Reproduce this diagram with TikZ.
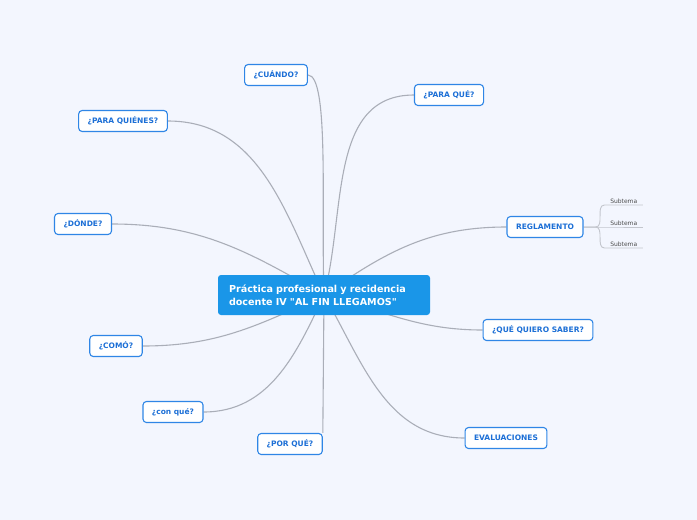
\documentclass[tikz,border=0pt]{standalone}
\usepackage{fontspec}
\setmainfont{DejaVu Sans}
\usetikzlibrary{positioning,backgrounds}
\definecolor{fondo}{HTML}{F3F6FE}
\definecolor{azul}{HTML}{1A96E8}
\definecolor{borde}{HTML}{2F86E6}
\definecolor{letra}{HTML}{1C6FD6}
\definecolor{rama}{HTML}{AAAEB8}
\tikzset{
  centro/.style={
    rounded corners=3pt,
    fill=azul, text=white,
    font=\bfseries\fontsize{9.6}{12.5}\selectfont,
    text width=190pt, align=left,
    inner xsep=11pt, minimum height=40pt
  },
  tema/.style={
    rounded corners=3.5pt,
    draw=borde, line width=1.1pt, fill=white, text=letra,
    font=\bfseries\fontsize{7.5}{9}\selectfont,
    inner xsep=9pt, minimum height=21pt
  },
  subtema/.style={
    text=black!70, font=\fontsize{6}{7}\selectfont,
    minimum width=38pt, inner sep=1.5pt
  },
  conexion/.style={draw=rama, line width=1.1pt},
  subconexion/.style={draw=rama!70, line width=0.9pt}
}

\begin{document}
\begin{tikzpicture}
  \useasboundingbox (0,0) rectangle (697pt,-520pt);
  \node[centro] (Centro) at (324pt,-295pt)
  {Práctica profesional y recidencia\\docente IV \textquotedbl AL FIN LLEGAMOS\textquotedbl};

  \node[tema, on grid, above left=220pt and 48pt of Centro] (Cuando) {¿CUÁNDO?};
  \node[tema, on grid, above right=200pt and 125pt of Centro] (ParaQue) {¿PARA QUÉ?};
  \node[tema, on grid, above left=174pt and 201pt of Centro] (ParaQuienes) {¿PARA QUIÉNES?};
  \node[tema, on grid, above left=71pt and 241pt of Centro] (Donde) {¿DÓNDE?};
  \node[tema, on grid, above right=68pt and 221pt of Centro] (Reglamento) {REGLAMENTO};
  \node[tema, on grid, below right=35pt and 214pt of Centro] (QueQuiero) {¿QUÉ QUIERO SABER?};
  \node[tema, on grid, below left=51pt and 208pt of Centro] (Como) {¿COMÓ?};
  \node[tema, on grid, below left=117pt and 151pt of Centro] (ConQue) {¿con qué?};
  \node[tema, on grid, below left=149pt and 34pt of Centro] (PorQue) {¿POR QUÉ?};
  \node[tema, on grid, below right=143pt and 182pt of Centro] (Evaluaciones) {EVALUACIONES};

  \node[subtema, above right=22pt and 21pt of Reglamento.east, anchor=south west] (SubA) {Subtema};
  \node[subtema, right=21pt of Reglamento.east, anchor=south west] (SubB) {Subtema};
  \node[subtema, below right=21pt and 21pt of Reglamento.east, anchor=south west] (SubC) {Subtema};

  \begin{scope}[on background layer]
    \fill[fondo] (0,0) rectangle (697pt,-520pt);
    \draw[conexion] (Centro.center) to[out=92,in=0,in looseness=0.25] (Cuando.east);
    \draw[conexion] (Centro.center) to[out=75,in=180] (ParaQue.west);
    \draw[conexion] (Centro.center) to[out=115,in=0] (ParaQuienes.east);
    \draw[conexion] (Centro.center) to[out=150,in=0] (Donde.east);
    \draw[conexion] (Centro.center) to[out=35,in=180] (Reglamento.west);
    \draw[conexion] (Centro.center) to[out=-15,in=180] (QueQuiero.west);
    \draw[conexion] (Centro.center) to[out=-155,in=0] (Como.east);
    \draw[conexion] (Centro.center) to[out=-115,in=0] (ConQue.east);
    \draw[conexion] (Centro.center) -- (PorQue.north east);
    \draw[conexion] (Centro.center) to[out=-60,in=180] (Evaluaciones.west);
    % subtemas de reglamento
    \draw[subconexion] (Reglamento.east) -- ++(12pt,0) to[out=0,in=180] (SubA.south west) -- (SubA.south east);
    \draw[subconexion] (Reglamento.east) -- (SubB.south west) -- (SubB.south east);
    \draw[subconexion] (Reglamento.east) -- ++(12pt,0) to[out=0,in=180] (SubC.south west) -- (SubC.south east);
  \end{scope}
\end{tikzpicture}
\end{document}
